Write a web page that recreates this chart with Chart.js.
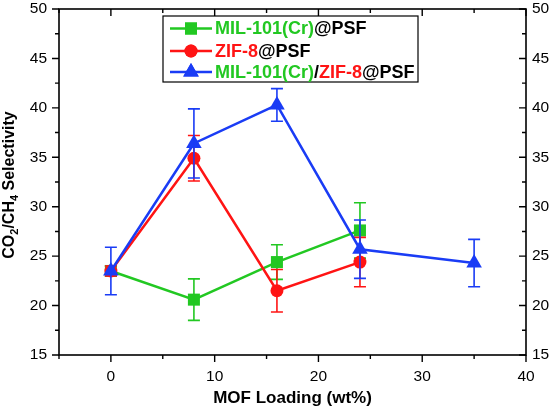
<!DOCTYPE html>
<html>
<head>
<meta charset="utf-8">
<script src="https://cdn.jsdelivr.net/npm/chart.js@4/dist/chart.umd.min.js"></script>
<style>
  html, body { margin: 0; padding: 0; background: #fff; }
  canvas { display: block; }
</style>
</head>
<body>
<canvas id="selChart" width="553" height="408"></canvas>
<script>
// CO2/CH4 selectivity vs MOF loading

// data
const loadingA = [0, 8, 16, 24];
const loadingB = [0, 8, 16, 24, 35];

const milValues = [23.5, 20.6, 24.4, 27.6];
const milErrors = [0.5, 2.1, 1.75, 2.8];

const zifValues = [23.5, 34.9, 21.5, 24.4];
const zifErrors = [0.5, 2.3, 2.15, 2.5];

const mixValues = [23.5, 36.4, 40.3, 25.7, 24.3];
const mixErrors = [2.4, 3.5, 1.65, 2.95, 2.4];

const seriesNames = ["MIL-101(Cr)@PSF", "ZIF-8@PSF", "MIL-101(Cr)/ZIF-8@PSF"];

const xTicks = [0, 10, 20, 30, 40];
const xMinorTicks = [-5, 5, 15, 25, 35];
const yTicks = [15, 20, 25, 30, 35, 40, 45, 50];
const yMinorTicks = [17.5, 22.5, 27.5, 32.5, 37.5, 42.5, 47.5];

const xTitle = "MOF Loading (wt%)";


const GREEN = "#22c822";
const RED = "#ff1414";
const BLUE = "#1a3cf5";
const FONT = "'Liberation Sans', Arial, sans-serif";


function toPoints(xs, ys){
    return xs.map((x, i) => ({ x: x, y: ys[i] }));
}


// legend text pieces with their colours
const legendParts = [
    [["MIL-101(Cr)", GREEN], ["@PSF", "#000"]],
    [["ZIF-8", RED], ["@PSF", "#000"]],
    [["MIL-101(Cr)", GREEN], ["/", "#000"], ["ZIF-8", RED], ["@PSF", "#000"]]
];


const errorBarPlugin = {
    id: "errorBars",
    afterDatasetDraw(chart, args){
        const ds = chart.data.datasets[args.index];
        if(!ds.errors) return;
        const xs = chart.scales.x;
        const ys = chart.scales.y;
        const ctx = chart.ctx;
        ctx.save();
        ctx.strokeStyle = ds.borderColor;
        ctx.lineWidth = 1.6;
        ds.data.forEach((p, i) => {
            const e = ds.errors[i];
            const px = xs.getPixelForValue(p.x);
            const top = ys.getPixelForValue(p.y + e);
            const bot = ys.getPixelForValue(p.y - e);
            ctx.beginPath();
            ctx.moveTo(px, top);
            ctx.lineTo(px, bot);
            ctx.moveTo(px - 6, top);
            ctx.lineTo(px + 6, top);
            ctx.moveTo(px - 6, bot);
            ctx.lineTo(px + 6, bot);
            ctx.stroke();
        });
        ctx.restore();
    }
};


const framePlugin = {
    id: "frame",
    afterDraw(chart){
        const ctx = chart.ctx;
        const a = chart.chartArea;
        const xs = chart.scales.x;
        const ys = chart.scales.y;

        ctx.save();
        ctx.strokeStyle = "#000";
        ctx.lineWidth = 1.6;
        ctx.strokeRect(a.left, a.top, a.right - a.left, a.bottom - a.top);

        // ticks: left / bottom outward, right / top inward
        ctx.lineWidth = 1.4;
        ctx.beginPath();
        const yAll = yTicks.map(v => [v, 7]).concat(yMinorTicks.map(v => [v, 4]));
        yAll.forEach(([v, len]) => {
            const py = ys.getPixelForValue(v);
            ctx.moveTo(a.left - len, py);
            ctx.lineTo(a.left, py);
            ctx.moveTo(a.right - len, py);
            ctx.lineTo(a.right, py);
        });
        const xAll = xTicks.map(v => [v, 7]).concat(xMinorTicks.map(v => [v, 4]));
        xAll.forEach(([v, len]) => {
            const px = xs.getPixelForValue(v);
            ctx.moveTo(px, a.bottom);
            ctx.lineTo(px, a.bottom + len);
            ctx.moveTo(px, a.top);
            ctx.lineTo(px, a.top + len);
        });
        ctx.stroke();

        // x title
        ctx.fillStyle = "#000";
        ctx.font = "bold 17px " + FONT;
        ctx.textAlign = "center";
        ctx.textBaseline = "middle";
        ctx.fillText(xTitle, (xs.getPixelForValue(-5) + xs.getPixelForValue(40)) / 2, 398);

        // y title with subscripts
        const pieces = [["CO", false], ["2", true], ["/CH", false], ["4", true], [" Selectivity", false]];
        const big = "bold 16px " + FONT;
        const small = "bold 11px " + FONT;
        let total = 0;
        pieces.forEach(([t, sub]) => {
            ctx.font = sub ? small : big;
            total += ctx.measureText(t).width;
        });
        ctx.translate(14, 185);
        ctx.rotate(-Math.PI / 2);
        ctx.textAlign = "left";
        ctx.textBaseline = "alphabetic";
        let cx = -total / 2;
        pieces.forEach(([t, sub]) => {
            ctx.font = sub ? small : big;
            ctx.fillText(t, cx, sub ? 4 : 0);
            cx += ctx.measureText(t).width;
        });
        ctx.restore();
    }
};


const legendPlugin = {
    id: "richLegend",
    afterDraw(chart){
        const ctx = chart.ctx;
        const boxL = 163, boxT = 16, boxW = 255, boxH = 66;
        const rows = [28.5, 51, 72];

        ctx.save();
        ctx.fillStyle = "#fff";
        ctx.fillRect(boxL, boxT, boxW, boxH);
        ctx.strokeStyle = "#000";
        ctx.lineWidth = 1.2;
        ctx.strokeRect(boxL, boxT, boxW, boxH);

        chart.data.datasets.forEach((ds, i) => {
            const y = rows[i];
            ctx.strokeStyle = ds.borderColor;
            ctx.lineWidth = 2.5;
            ctx.beginPath();
            ctx.moveTo(170, y);
            ctx.lineTo(212, y);
            ctx.stroke();
            ctx.fillStyle = ds.backgroundColor;
            Chart.helpers.drawPoint(ctx, {
                pointStyle: ds.pointStyle,
                radius: ds.pointRadius,
                borderWidth: 0,
                rotation: 0
            }, 191, y);
            ctx.fill();

            ctx.font = "bold 18px " + FONT;
            ctx.textBaseline = "middle";
            ctx.textAlign = "left";
            let tx = 215;
            legendParts[i].forEach(([t, col]) => {
                ctx.fillStyle = col;
                ctx.fillText(t, tx, y + 1);
                tx += ctx.measureText(t).width;
            });
        });
        ctx.restore();
    }
};


function fixTicks(list){
    return function(scale){
        scale.ticks = list.map(v => ({ value: v }));
    };
}


new Chart(
    document.getElementById("selChart"),
    {
        type: "scatter",

        data: {
            datasets: [
                {
                    label: seriesNames[0],
                    data: toPoints(loadingA, milValues),
                    errors: milErrors,
                    borderColor: GREEN,
                    backgroundColor: GREEN,
                    pointStyle: "rect",
                    pointRadius: 8.5,
                    order: 2
                },
                {
                    label: seriesNames[1],
                    data: toPoints(loadingA, zifValues),
                    errors: zifErrors,
                    borderColor: RED,
                    backgroundColor: RED,
                    pointStyle: "circle",
                    pointRadius: 6.5,
                    order: 1
                },
                {
                    label: seriesNames[2],
                    data: toPoints(loadingB, mixValues),
                    errors: mixErrors,
                    borderColor: BLUE,
                    backgroundColor: BLUE,
                    pointStyle: "triangle",
                    pointRadius: 9,
                    order: 0
                }
            ].map(ds => Object.assign(ds, {
                showLine: true,
                borderWidth: 2.5,
                pointBorderWidth: 0,
                pointHoverRadius: ds.pointRadius,
                tension: 0
            }))
        },

        options: {
            responsive: false,
            animation: false,
            events: [],
            layout: { padding: 0 },
            plugins: {
                legend: { display: false },
                tooltip: { enabled: false }
            },
            scales: {
                x: {
                    type: "linear",
                    position: "bottom",
                    min: -5,
                    max: 40,
                    afterBuildTicks: fixTicks(xTicks),
                    afterFit(scale){
                        scale.height = 53;
                    },
                    grid: { display: false, drawTicks: false },
                    border: { display: false },
                    ticks: {
                        padding: 12,
                        color: "#000",
                        font: { family: FONT, size: 15.5 }
                    }
                },
                y: {
                    position: "left",
                    min: 15,
                    max: 50,
                    afterBuildTicks: fixTicks(yTicks),
                    afterFit(scale){
                        scale.width = 59;
                        scale.paddingTop = 7;
                        scale.paddingBottom = 0;
                    },
                    grid: { display: false, drawTicks: false },
                    border: { display: false },
                    ticks: {
                        padding: 12,
                        color: "#000",
                        font: { family: FONT, size: 15.5 }
                    }
                },
                y2: {
                    position: "right",
                    min: 15,
                    max: 50,
                    afterBuildTicks: fixTicks(yTicks),
                    afterFit(scale){
                        scale.width = 27;
                        scale.paddingTop = 7;
                        scale.paddingBottom = 0;
                    },
                    grid: { display: false, drawTicks: false },
                    border: { display: false },
                    ticks: {
                        padding: 6,
                        color: "#000",
                        font: { family: FONT, size: 15.5 }
                    }
                }
            }
        },

        plugins: [errorBarPlugin, framePlugin, legendPlugin]
    }
);
</script>
</body>
</html>
